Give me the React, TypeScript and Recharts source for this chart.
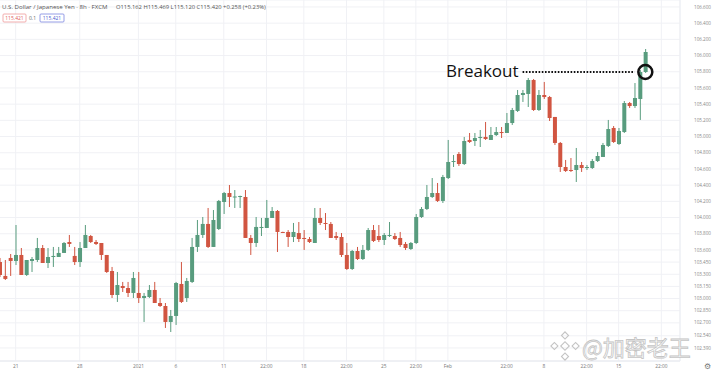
import {
  Bar,
  CartesianGrid,
  ComposedChart,
  ReferenceDot,
  ReferenceLine,
  XAxis,
  YAxis,
} from "recharts";

const GREEN = "#589c7e";
const RED = "#d15541";

// 8h candles
const open = [
  103.451, 103.279, 103.501, 103.464, 103.538, 103.291, 103.464, 103.476, 103.624, 103.439,
  103.513, 103.513, 103.563, 103.698, 103.526, 103.451, 103.624, 103.772, 103.698, 103.686,
  103.538, 103.34, 103.044, 103.155, 103.13, 103.069, 103.069, 103.007, 103.019, 103.106,
  102.945, 102.908, 102.711, 102.785, 103.18, 103.007, 103.205, 103.637, 103.785, 103.921,
  103.637, 103.859, 104.192, 104.303, 104.254, 104.254, 104.254, 103.748, 103.686, 103.871,
  103.871, 103.995, 104.081, 103.822, 103.822, 103.76, 103.809, 103.748, 103.735, 103.686,
  103.995, 103.933, 103.921, 103.772, 103.76, 103.538, 103.365, 103.587, 103.488, 103.6,
  103.846, 103.772, 103.723, 103.772, 103.772, 103.748, 103.674, 103.612, 103.686, 104.007,
  104.106, 104.254, 104.303, 104.205, 104.488, 104.686, 104.785, 104.661, 104.958, 104.945,
  104.982, 104.995, 104.958, 105.019, 105.056, 105.044, 105.167, 105.316, 105.513, 105.526,
  105.698, 105.328, 105.513, 105.488, 105.242, 104.921, 104.624, 104.587, 104.587, 104.649,
  104.612, 104.612, 104.698, 104.748, 104.884, 105.106, 104.908, 105.056, 105.414, 105.377,
  105.464, 105.797,
];
const high = [
  103.501, 103.476, 103.55, 103.908, 103.624, 103.476, 103.513, 103.748, 103.661, 103.624,
  103.637, 103.637, 103.698, 103.785, 103.637, 103.698, 103.908, 103.785, 103.723, 103.686,
  103.538, 103.39, 103.328, 103.205, 103.205, 103.328, 103.328, 103.069, 103.167, 103.205,
  103.007, 102.945, 102.859, 103.205, 103.451, 103.254, 103.748, 103.97, 104.007, 104.118,
  104.093, 104.217, 104.316, 104.402, 104.34, 104.27, 104.34, 103.785, 104.007, 103.995,
  104.217, 104.13, 104.093, 103.825, 103.846, 103.933, 103.945, 103.846, 103.76, 104.118,
  104.118, 104.056, 103.945, 103.822, 103.809, 103.686, 103.6, 103.637, 103.661, 103.871,
  103.908, 103.908, 103.809, 103.945, 103.809, 103.822, 103.698, 103.698, 104.044, 104.13,
  104.402, 104.488, 104.427, 104.526, 104.958, 104.772, 104.809, 104.995, 105.044, 105.044,
  105.081, 105.18, 105.118, 105.118, 105.118, 105.291, 105.353, 105.575, 105.575, 105.723,
  105.711, 105.575, 105.674, 105.501, 105.242, 104.933, 104.711, 104.735, 104.859, 104.686,
  104.649, 104.723, 104.809, 104.921, 105.205, 105.13, 105.106, 105.439, 105.427, 105.661,
  105.822, 106.081,
];
const low = [
  103.266, 103.229, 103.279, 103.414, 103.291, 103.279, 103.328, 103.451, 103.439, 103.377,
  103.39, 103.513, 103.563, 103.637, 103.414, 103.39, 103.624, 103.686, 103.661, 103.476,
  103.316, 103.007, 102.958, 103.081, 103.019, 103.007, 102.945, 102.711, 103.007, 102.945,
  102.896, 102.637, 102.587, 102.674, 102.945, 102.958, 103.192, 103.575, 103.748, 103.624,
  103.637, 103.846, 104.044, 104.13, 104.118, 104.118, 103.748, 103.538, 103.637, 103.772,
  103.871, 103.995, 103.575, 103.809, 103.637, 103.698, 103.698, 103.6, 103.686, 103.686,
  103.908, 103.846, 103.748, 103.723, 103.513, 103.353, 103.353, 103.476, 103.476, 103.587,
  103.698, 103.698, 103.661, 103.76, 103.723, 103.637, 103.6, 103.6, 103.674, 103.995,
  104.093, 104.242, 104.192, 104.18, 104.476, 104.624, 104.637, 104.649, 104.921, 104.884,
  104.871, 104.958, 104.958, 105.007, 104.982, 105.044, 105.143, 105.303, 105.427, 105.365,
  105.316, 105.316, 105.464, 105.192, 104.896, 104.563, 104.563, 104.563, 104.439, 104.563,
  104.587, 104.6, 104.686, 104.748, 104.871, 104.921, 104.896, 105.044, 105.353, 105.353,
  105.205, 105.785,
];
const close = [
  103.291, 103.242, 103.464, 103.538, 103.291, 103.476, 103.488, 103.624, 103.439, 103.513,
  103.526, 103.563, 103.686, 103.674, 103.451, 103.624, 103.785, 103.698, 103.674, 103.538,
  103.328, 103.044, 103.167, 103.13, 103.069, 103.254, 103.007, 103.032, 103.106, 102.945,
  102.908, 102.711, 102.785, 103.192, 102.958, 103.217, 103.637, 103.785, 103.921, 103.637,
  103.97, 104.205, 104.303, 104.254, 104.26, 104.266, 103.748, 103.686, 103.884, 103.884,
  103.995, 104.081, 103.822, 103.815, 103.76, 103.822, 103.735, 103.735, 103.698, 103.995,
  103.933, 103.921, 103.748, 103.748, 103.538, 103.365, 103.587, 103.488, 103.6, 103.846,
  103.711, 103.723, 103.785, 103.785, 103.735, 103.661, 103.624, 103.686, 104.007, 104.106,
  104.254, 104.303, 104.205, 104.501, 104.686, 104.698, 104.661, 104.945, 104.933, 104.982,
  104.995, 104.97, 105.019, 105.056, 105.044, 105.167, 105.328, 105.513, 105.538, 105.698,
  105.328, 105.513, 105.488, 105.229, 104.921, 104.624, 104.575, 104.575, 104.649, 104.612,
  104.624, 104.698, 104.76, 104.896, 105.093, 104.933, 105.069, 105.414, 105.377, 105.476,
  105.797, 106.044,
];

const SLOTS = 128; // empty room after the last candle
const tickIndex = [3, 15, 26, 33, 42, 50, 57, 65, 72, 78, 84, 95, 102, 110, 116, 124];
const tickText = ["21", "28", "2021", "6", "11", "22:00", "18", "22:00", "25", "22:00", "Feb", "22:00", "8", "22:00", "15", "22:00"];
const priceTicks = [
  106.6, 106.4, 106.2, 106.0, 105.8, 105.6, 105.4, 105.2, 105.0, 104.8, 104.6, 104.4,
  104.2, 104.0, 103.8, 103.6, 103.45, 103.3, 103.15, 103.0, 102.85, 102.7, 102.54, 102.39,
];
const breakoutLevel = 105.797;
const breakoutFrom = 98;
const breakoutTo = 119;
const breakoutCandle = 121;

const data = Array.from({ length: SLOTS }, (_, i) => ({
  i,
  open: open[i] ?? null,
  high: high[i] ?? null,
  low: low[i] ?? null,
  close: close[i] ?? null,
}));

function Candle(props: any) {
  const { x, y, width, height, payload } = props;
  if (payload == null || payload.open == null) return null;
  const { open: o, close: c, high: h, low: l } = payload;
  const color = c >= o ? GREEN : RED;
  const ppu = height / (h - l);
  const bodyTop = y + (h - Math.max(o, c)) * ppu;
  const bodyH = Math.max(Math.abs(o - c) * ppu, 1);
  const cx = x + width / 2;
  return (
    <g>
      <line x1={cx} x2={cx} y1={y} y2={y + height} stroke={color} strokeWidth={1} />
      <rect x={x} y={bodyTop} width={width} height={bodyH} fill={color} />
    </g>
  );
}

export default function App() {
  return (
    <div style={{ position: "relative", width: 720, height: 373, fontFamily: "'Open Sans', sans-serif", background: "#fff" }}>
      <style>{"body{margin:0}"}</style>
      <ComposedChart width={720} height={373} data={data} margin={{ top: 0, right: 0, bottom: 0, left: -3 }}>
        <CartesianGrid stroke="#f0f1f5" />
        <XAxis
          dataKey="i"
          ticks={tickIndex}
          interval={0}
          tickFormatter={(v) => tickText[tickIndex.indexOf(v)] ?? ""}
          height={12}
          tickLine={false}
          tickSize={0}
          tickMargin={4}
          axisLine={{ stroke: "#e6e8ee" }}
          tick={{ fontSize: 4.8, fill: "#777" }}
        />
        <YAxis
          orientation="right"
          domain={[102.229, 106.686]}
          allowDataOverflow
          ticks={priceTicks}
          interval={0}
          width={40}
          tickLine={false}
          tickSize={0}
          tickMargin={14}
          axisLine={{ stroke: "#eceef3" }}
          tickFormatter={(v) => v.toFixed(3)}
          tick={{ fontSize: 4.6, fill: "#888" }}
        />
        <Bar
          dataKey={(d: any) => (d.low == null ? null : [d.low, d.high])}
          barSize={4}
          shape={Candle}
          isAnimationActive={false}
        />
        <ReferenceLine
          segment={[
            { x: breakoutFrom, y: breakoutLevel },
            { x: breakoutTo, y: breakoutLevel },
          ]}
          stroke="#111"
          strokeWidth={2}
          strokeDasharray="1.6 1.6"
        />
        <ReferenceDot x={breakoutCandle} y={breakoutLevel} r={7} fill="none" stroke="#111" strokeWidth={2.5} />
      </ComposedChart>
      <svg width={720} height={373} style={{ position: "absolute", left: 0, top: 0, pointerEvents: "none" }}>
        <text x={2} y={9} fontSize={6.1} fill="#555">U.S. Dollar / Japanese Yen · 8h · FXCM</text>
        <text x={116} y={9} fontSize={5.8} fill="#555">O115.162 H115.469 L115.120 C115.420 +0.258 (+0.23%)</text>
        <rect x={3} y={14} width={23} height={8} rx={1} fill="#fff" stroke="#ef9a9a" strokeWidth={0.8} />
        <text x={14.5} y={20} textAnchor="middle" fontSize={5} fill="#e0605a">115.421</text>
        <text x={29} y={20} fontSize={5} fill="#666">0.1</text>
        <rect x={40} y={14} width={24} height={8} rx={1} fill="#fff" stroke="#7b86e0" strokeWidth={0.8} />
        <text x={52} y={20} textAnchor="middle" fontSize={5} fill="#4a5bd0">115.421</text>
        <text x={446} y={77} fontSize={17} fill="#111">Breakout</text>
        <g transform="translate(565,346) rotate(45)" stroke="#c4c4c4" fill="none" strokeWidth={1.1}>
          <rect x={-3} y={-3} width={6} height={6} />
          <rect x={-10} y={-10} width={5} height={5} />
          <rect x={5} y={5} width={5} height={5} />
          <rect x={-10} y={5} width={5} height={5} />
          <rect x={5} y={-10} width={5} height={5} />
        </g>
        <text
          x={582}
          y={356}
          fontSize={22}
          fontFamily="'Noto Sans CJK SC', sans-serif"
          fill="rgba(255,255,255,0.5)"
          stroke="#c4c4c4"
          strokeWidth={0.8}
        >
          @加密老王
        </text>
        <text x={704} y={369} fontSize={8} fill="#777" fontFamily="DejaVu Sans">⚙</text>
      </svg>
    </div>
  );
}
